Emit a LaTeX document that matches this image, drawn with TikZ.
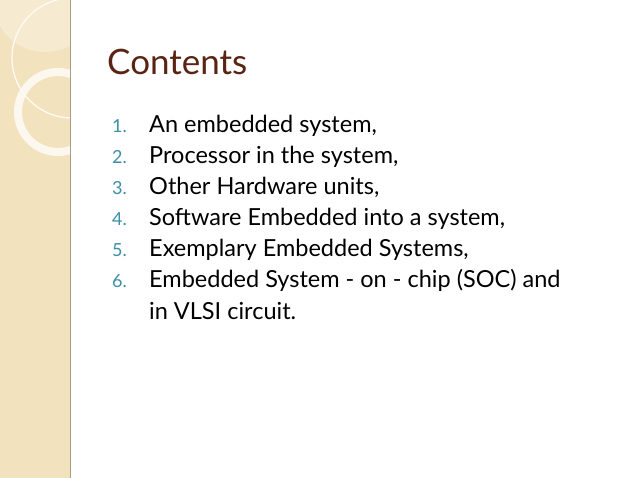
\documentclass[tikz,border=0pt]{standalone}
\usepackage{fontspec}
\setmainfont{Lato}
\definecolor{beige}{HTML}{F3E2BE}
\definecolor{ttl}{HTML}{5A2414}
\definecolor{num}{HTML}{3C8FA6}
\begin{document}
\begin{tikzpicture}[x=1pt,y=-1pt,
  itm/.style={anchor=base west,font=\fontsize{23.5}{28}\selectfont,inner sep=0},
  nm/.style={anchor=base west,font=\fontsize{18}{20}\selectfont,text=num,inner sep=0}]
\useasboundingbox (0,0) rectangle (638,478);
\fill[white] (0,0) rectangle (638,478);
\fill[beige] (0,0) rectangle (70,478);
\begin{scope}
\clip (0,0) rectangle (70,478);
\fill[white,opacity=0.3] (45,0) circle (52);
\draw[white!75!beige,line width=8] (58,112) circle (40);
\draw[white!90!beige,line width=1.2] (72,58) circle (60);
\end{scope}
\draw[beige!70!black,line width=0.6] (70,0) -- (70,478);
\node[anchor=base west,inner sep=0,font=\fontsize{35}{40}\selectfont,text=ttl] (t) at (107,75) {Contents};
\foreach \i/\t in {1/{An embedded system,},2/{Processor in the system,},3/{Other Hardware units,},4/{Software Embedded into a system,},5/{Exemplary Embedded Systems,},6/{Embedded System - on - chip (SOC) and}}{
  \node[nm] (n\i) at (112,{133+31*(\i-1)}) {\i.};
  \node[itm] (i\i) at (149,{133+31*(\i-1)}) {\t};
}
\node[itm] (i7) at (149,320) {in VLSI circuit.};
\end{tikzpicture}
\end{document}
